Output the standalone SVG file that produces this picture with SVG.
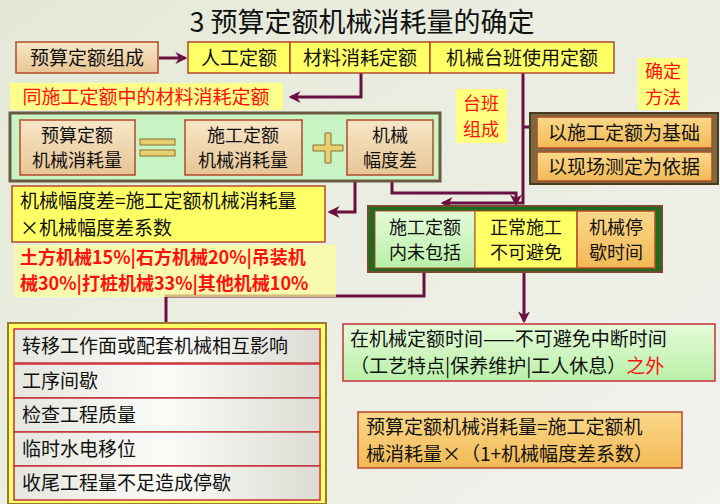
<svg xmlns="http://www.w3.org/2000/svg" width="720" height="504" viewBox="0 0 720 504">
<defs>
<linearGradient id="bg" x1="0" y1="0" x2="1" y2="1"><stop offset="0" stop-color="#e4e9d6"/><stop offset="1" stop-color="#f2f2ee"/></linearGradient>
<linearGradient id="tan" x1="0" y1="0" x2="0" y2="1"><stop offset="0" stop-color="#f8e6c8"/><stop offset="1" stop-color="#e7c595"/></linearGradient>
<linearGradient id="org" x1="0" y1="0" x2="0" y2="1"><stop offset="0" stop-color="#fbd88a"/><stop offset="1" stop-color="#f2b955"/></linearGradient>
<linearGradient id="sil" x1="0" y1="0" x2="1" y2="0"><stop offset="0" stop-color="#e6e6e0"/><stop offset="0.5" stop-color="#fbfbf8"/><stop offset="1" stop-color="#dcdcd4"/></linearGradient>
<linearGradient id="lg" x1="0" y1="0" x2="0" y2="1"><stop offset="0" stop-color="#e4fbd8"/><stop offset="1" stop-color="#b9f0a8"/></linearGradient>
<marker id="ah" viewBox="0 0 10 10" refX="8" refY="5" markerWidth="4" markerHeight="4" orient="auto"><path d="M0,0 L10,5 L0,10 L3,5 Z" fill="#6a1040"/></marker>
</defs>
<style>
.t{font-family:"Noto Sans CJK SC","Liberation Sans",sans-serif;font-size:19px;fill:#111;}
.s{font-size:18px;}
.c{text-anchor:middle;}
.r{fill:#ff1010;}
.y{fill:#ffff66;stroke:#b34a2a;stroke-width:1.5;}
.tb{fill:url(#tan);stroke:#b34a2a;stroke-width:1.5;}
.ob{fill:url(#org);stroke:#b34a2a;stroke-width:1.5;}
.sb{fill:url(#sil);stroke:#c8303a;stroke-width:1.5;}
.ln{fill:none;stroke:#6a1040;stroke-width:3;}
</style>
<rect width="720" height="504" fill="url(#bg)"/>
<text x="362" y="32" class="t c" style="font-size:27px">3  预算定额机械消耗量的确定</text>

<g id="connectors">
<path class="ln" d="M159,58 H185" marker-end="url(#ah)"/>
<path class="ln" d="M361,73 V97 H291" marker-end="url(#ah)"/>
<path class="ln" d="M523,73 V203 H443" marker-end="url(#ah)"/>
<path class="ln" d="M523,127 H627 V151" marker-end="url(#ah)"/>
<path class="ln" d="M355,180 V212 H330" marker-end="url(#ah)"/>
<path class="ln" d="M392,180 V193 H516 V204" marker-end="url(#ah)"/>
<path class="ln" d="M424,272 V296 H166 V323"/>
<path class="ln" d="M524,272 V321" marker-end="url(#ah)"/>
</g>

<g id="n-zucheng"><rect x="16" y="42" width="142" height="31" class="tb"/><text x="87" y="65" class="t c">预算定额组成</text></g>
<g id="n-row1">
<rect x="188" y="42" width="102" height="31" class="y"/><text x="239" y="65" class="t c">人工定额</text>
<rect x="290" y="42" width="140" height="31" class="y"/><text x="360" y="65" class="t c">材料消耗定额</text>
<rect x="430" y="42" width="184" height="31" class="y"/><text x="522" y="65" class="t c">机械台班使用定额</text>
</g>
<g id="l-cailiao"><rect x="10" y="83" width="273" height="27" fill="#ffff80" opacity="0.9"/><text x="146" y="104" class="t c r">同施工定额中的材料消耗定额</text></g>
<g id="l-taiban"><rect x="456" y="89" width="51" height="54" fill="#ffff80"/><text x="481" y="110" class="t s c r">台班</text><text x="481" y="136" class="t s c r">组成</text></g>
<g id="l-queding"><rect x="638" y="58" width="50" height="52" fill="#ffff80"/><text x="663" y="78" class="t s c r">确定</text><text x="663" y="104" class="t s c r">方法</text></g>

<g id="n-formula">
<rect x="10" y="113" width="430" height="68" fill="#c8f4c4" stroke="#6a5a40" stroke-width="3"/>
<rect x="20" y="120" width="115" height="55" class="tb"/><text x="77" y="142" class="t s c">预算定额</text><text x="77" y="167" class="t s c">机械消耗量</text>
<rect x="140" y="139" width="35" height="6" fill="#e8d070" stroke="#8a7030"/><rect x="140" y="150" width="35" height="6" fill="#e8d070" stroke="#8a7030"/>
<rect x="185" y="120" width="117" height="55" class="tb"/><text x="243" y="142" class="t s c">施工定额</text><text x="243" y="167" class="t s c">机械消耗量</text>
<path d="M325,133 h6 v12 h12 v6 h-12 v12 h-6 v-12 h-12 v-6 h12 z" fill="#e8d070" stroke="#8a7030"/>
<rect x="347" y="120" width="86" height="55" class="tb"/><text x="390" y="142" class="t s c">机械</text><text x="390" y="167" class="t s c">幅度差</text>
</g>

<g id="n-methods">
<rect x="530" y="113" width="188" height="71" fill="#7a6a40" stroke="#4a3a20" stroke-width="2"/>
<rect x="537" y="117" width="175" height="31" class="ob"/><text x="624" y="140" class="t c">以施工定额为基础</text>
<rect x="537" y="152" width="175" height="29" class="ob"/><text x="624" y="174" class="t c">以现场测定为依据</text>
</g>

<g id="n-fudu"><rect x="12" y="186" width="313" height="56" fill="#ffff66" stroke="#b34a2a" stroke-width="1.5"/>
<text x="20" y="208" class="t">机械幅度差=施工定额机械消耗量</text><text x="20" y="235" class="t">×机械幅度差系数</text></g>
<g id="l-xishu"><rect x="14" y="245" width="322" height="52" fill="#ffff99" opacity="0.7"/>
<text x="20" y="264" class="t s r" style="font-weight:bold">土方机械15%|石方机械20%|吊装机</text>
<text x="20" y="290" class="t s r" style="font-weight:bold">械30%|打桩机械33%|其他机械10%</text></g>

<g id="n-types">
<rect x="368" y="206" width="294" height="66" fill="#1e6a1e" stroke="#7a4a30" stroke-width="2"/>
<rect x="375" y="211" width="100" height="57" fill="url(#lg)" stroke="#b34a2a"/><text x="425" y="234" class="t s c">施工定额</text><text x="425" y="259" class="t s c">内未包括</text>
<rect x="475" y="211" width="102" height="57" fill="#ffff66" stroke="#b34a2a"/><text x="526" y="234" class="t s c">正常施工</text><text x="526" y="259" class="t s c">不可避免</text>
<rect x="577" y="211" width="78" height="57" class="ob"/><text x="616" y="234" class="t s c">机械停</text><text x="616" y="259" class="t s c">歇时间</text>
</g>

<g id="n-list">
<rect x="8" y="323" width="318" height="181" fill="#ffff66" stroke="#9a7a30" stroke-width="2"/>
<rect x="14" y="329" width="306" height="34" class="sb"/><text x="22" y="353" class="t">转移工作面或配套机械相互影响</text>
<rect x="14" y="364" width="306" height="34" class="sb"/><text x="22" y="388" class="t">工序间歇</text>
<rect x="14" y="398" width="306" height="34" class="sb"/><text x="22" y="422" class="t">检查工程质量</text>
<rect x="14" y="432" width="306" height="34" class="sb"/><text x="22" y="456" class="t">临时水电移位</text>
<rect x="14" y="466" width="306" height="34" class="sb"/><text x="22" y="490" class="t">收尾工程量不足造成停歇</text>
</g>

<g id="n-zaiwai"><rect x="343" y="324" width="372" height="57" fill="url(#lg)" stroke="#c8303a" stroke-width="1.5"/>
<text x="350" y="346" class="t">在机械定额时间——不可避免中断时间</text>
<text x="350" y="373" class="t">（工艺特点|保养维护|工人休息）<tspan class="r">之外</tspan></text></g>

<g id="n-final"><rect x="358" y="412" width="324" height="56" class="ob"/>
<text x="366" y="434" class="t">预算定额机械消耗量=施工定额机</text>
<text x="366" y="461" class="t">械消耗量×（1+机械幅度差系数）</text></g>
</svg>
